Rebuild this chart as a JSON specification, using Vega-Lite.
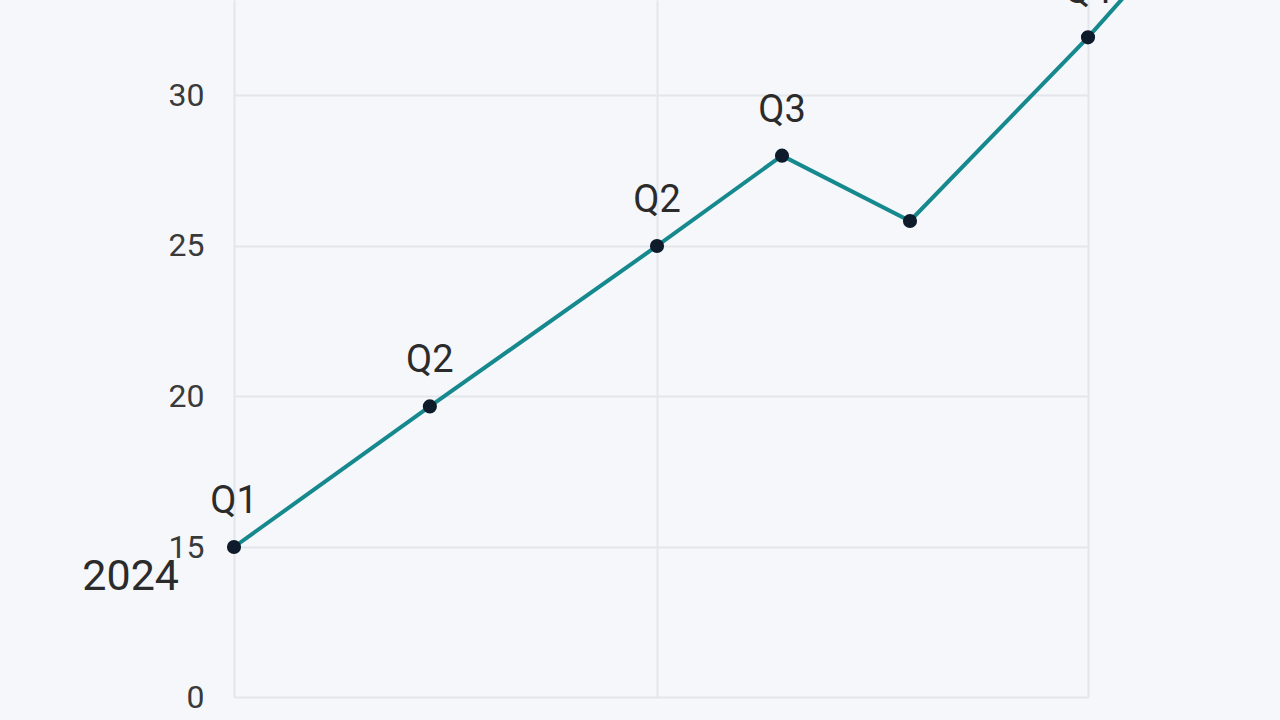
{
  "$schema": "https://vega.github.io/schema/vega-lite/v6.json",
  "autosize": {"type": "none"},
  "padding": {"left": 234, "top": 0, "right": 192, "bottom": 23},
  "width": 854,
  "height": 697,
  "background": "#f5f7fa",
  "config": {
    "view": {"stroke": null},
    "font": "Roboto",
    "axis": {"gridColor": "#e3e6ea", "gridWidth": 2}
  },
  "datasets": {
    "series": [
      {"t": 0, "value": 15, "label": "Q1"},
      {"t": 0.463, "value": 19.67, "label": "Q2"},
      {"t": 1.0, "value": 25.0, "label": "Q2"},
      {"t": 1.29, "value": 28.0, "label": "Q3"},
      {"t": 1.587, "value": 25.83, "label": ""},
      {"t": 2.0, "value": 31.93, "label": "Q4"},
      {"t": 2.25, "value": 35.95, "label": ""}
    ],
    "notes": [
      {"t": -0.13, "value": 10.7, "text": "2024"}
    ]
  },
  "data": {"name": "series"},
  "encoding": {
    "x": {
      "field": "t",
      "type": "quantitative",
      "scale": {"domain": [0, 1, 2], "range": [0, 423, 854], "zero": false, "nice": false},
      "axis": {"values": [0, 1, 2], "labels": false, "ticks": false, "domain": false, "title": null, "grid": true}
    },
    "y": {
      "field": "value",
      "type": "quantitative",
      "scale": {"domain": [0, 15, 33.17], "range": [697, 547, 0], "zero": false, "nice": false},
      "axis": {
        "values": [0, 15, 20, 25, 30],
        "ticks": false,
        "domain": false,
        "title": null,
        "labelFontSize": 32,
        "labelColor": "#3a3a3a",
        "labelPadding": 30
      }
    }
  },
  "layer": [
    {
      "mark": {"type": "line", "color": "#16898e", "strokeWidth": 4, "clip": false}
    },
    {
      "mark": {"type": "circle", "color": "#0d1b2a", "opacity": 1, "size": 200, "clip": false}
    },
    {
      "mark": {"type": "text", "fontSize": 38, "color": "#2b2b2b", "baseline": "alphabetic", "align": "center", "dy": -34},
      "encoding": {"text": {"field": "label"}}
    },
    {
      "data": {"name": "notes"},
      "mark": {"type": "text", "fontSize": 43, "color": "#2b2b2b", "baseline": "alphabetic", "align": "right"},
      "encoding": {"text": {"field": "text"}}
    }
  ]
}
